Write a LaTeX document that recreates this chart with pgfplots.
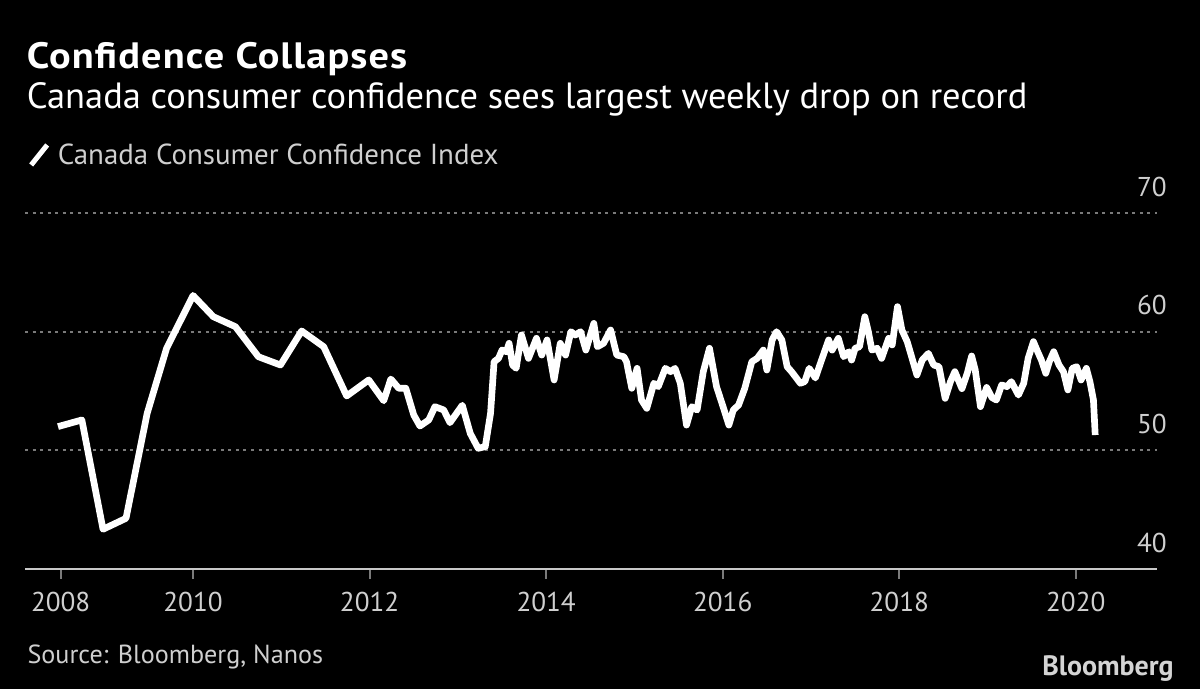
\documentclass[border=0pt]{standalone}
\usepackage{pgfplots}
\pgfplotsset{compat=1.18}
\usepackage{fontspec}
\setmainfont{PT Sans}
\newfontfamily\titlefont[FakeStretch=1.1, LetterSpace=3]{PT Sans}
\definecolor{bg}{HTML}{000000}
\definecolor{soft}{HTML}{CFCFCF}
\definecolor{gridc}{HTML}{7A7A7A}
\definecolor{axisc}{HTML}{C8C8C8}

% Canada Consumer Confidence Index (decimal year, index)
\pgfplotstableread{
year value
2008.47 52.00
2008.74 52.56
2008.98 43.35
2009.24 44.27
2009.48 53.12
2009.70 58.60
2010.00 63.05
2010.23 61.26
2010.48 60.42
2010.74 57.89
2010.99 57.19
2011.23 60.06
2011.48 58.73
2011.74 54.58
2011.99 55.93
2012.16 54.18
2012.24 56.01
2012.33 55.23
2012.41 55.23
2012.50 52.98
2012.57 52.05
2012.67 52.56
2012.74 53.68
2012.84 53.40
2012.91 52.33
2013.05 53.80
2013.14 51.43
2013.23 50.17
2013.31 50.31
2013.37 53.12
2013.41 57.47
2013.46 57.75
2013.50 58.45
2013.55 58.31
2013.58 59.02
2013.62 57.19
2013.66 56.91
2013.72 59.72
2013.80 57.75
2013.89 59.44
2013.95 58.03
2014.01 59.30
2014.09 55.93
2014.16 59.02
2014.22 58.03
2014.28 60.00
2014.33 59.72
2014.39 60.00
2014.45 58.45
2014.54 60.70
2014.58 58.73
2014.65 59.02
2014.73 60.14
2014.80 58.03
2014.88 57.89
2014.91 57.47
2014.97 55.23
2015.03 56.91
2015.08 54.24
2015.14 53.54
2015.22 55.65
2015.27 55.37
2015.35 56.91
2015.41 56.63
2015.46 56.91
2015.52 55.65
2015.59 52.13
2015.65 53.68
2015.71 53.40
2015.78 56.63
2015.85 58.60
2015.93 55.37
2016.01 53.54
2016.07 52.13
2016.12 53.40
2016.18 53.82
2016.25 55.23
2016.33 57.47
2016.39 57.75
2016.46 58.45
2016.50 56.77
2016.56 59.30
2016.61 60.00
2016.67 59.30
2016.73 57.05
2016.78 56.63
2016.88 55.65
2016.93 55.79
2016.98 56.91
2017.05 56.10
2017.11 57.40
2017.20 59.30
2017.24 58.45
2017.31 59.44
2017.37 57.89
2017.43 58.31
2017.46 57.61
2017.50 58.60
2017.55 58.73
2017.61 61.26
2017.65 60.00
2017.69 58.45
2017.75 58.60
2017.80 57.75
2017.88 59.44
2017.92 58.88
2017.98 62.11
2018.03 60.14
2018.09 59.16
2018.14 57.89
2018.20 56.35
2018.26 57.61
2018.33 58.17
2018.39 57.19
2018.45 57.05
2018.52 54.38
2018.58 55.79
2018.63 56.63
2018.71 55.20
2018.77 56.49
2018.82 57.95
2018.86 56.80
2018.92 53.68
2018.99 55.30
2019.05 54.45
2019.10 54.24
2019.16 55.51
2019.22 55.37
2019.27 55.79
2019.35 54.66
2019.41 55.65
2019.46 57.75
2019.52 59.16
2019.56 58.45
2019.61 57.61
2019.66 56.49
2019.70 57.47
2019.75 58.31
2019.81 57.19
2019.86 56.63
2019.91 55.09
2019.96 56.91
2020.01 57.05
2020.06 55.93
2020.12 56.91
2020.16 55.79
2020.20 54.24
2020.22 51.29
}\cci

\begin{document}
\begin{tikzpicture}
\path[use as bounding box, fill=bg] (0,0) rectangle (900pt,-516.75pt);

% headings
\node[anchor=base west, inner sep=0pt, text=white,
      font=\titlefont\bfseries\fontsize{27.5}{30}\selectfont]
  at (20pt,-51.2pt) {Confidence Collapses};
\node[anchor=base west, inner sep=0pt, text=white,
      font=\fontsize{27.35}{30}\selectfont]
  at (20pt,-81.2pt) {Canada consumer confidence sees largest weekly drop on record};

\begin{axis}[
  at={(18.75pt,-426.75pt)}, anchor=south west,
  scale only axis, width=849pt, height=267pt,
  xmin=2008.096, xmax=2020.92, ymin=40, ymax=70,
  axis x line*=bottom, axis y line*=right,
  x axis line style={draw=axisc, line width=1.5pt},
  y axis line style={draw=none},
  xtick={2008.5,2010,2012,2014,2016,2018,2020},
  xticklabels={2008,2010,2012,2014,2016,2018,2020},
  ytick={40,50,60,70}, yticklabels={40,50,60,70},
  tick align=outside, major tick length=7.5pt,
  xtick style={draw=gridc, line width=1.5pt},
  ytick style={draw=none},
  xticklabel style={font=\fontsize{20.4}{22}\selectfont, text=soft, inner sep=0pt, anchor=north, yshift=-10pt},
  yticklabel style={font=\fontsize{20.4}{22}\selectfont, text=soft, inner sep=0pt, anchor=base east, yshift=12.75pt},
  ymajorgrids,
  y grid style={draw=gridc, line width=1.5pt, dash pattern=on 2.25pt off 3.4pt},
  legend style={at={(axis description cs:0.003,1.163)}, anchor=west,
    draw=none, fill=none, inner sep=0pt, text=soft,
    font=\fontsize{21.7}{23}\selectfont},
  legend image code/.code={%
    \draw[white, line width=3.75pt] (0pt,-7.5pt) -- (12pt,7.5pt);
    \path[draw=none] (0pt,0pt) -- (18pt,0pt);},
  clip=false,
]
\addplot[white, line width=5pt, line join=round] table[x=year, y=value] {\cci};
\addlegendentry{Canada Consumer Confidence Index}
\end{axis}

% footer
\node[anchor=base west, inner sep=0pt, text=soft,
      font=\fontsize{19.6}{21}\selectfont]
  at (20.5pt,-497.5pt) {Source: Bloomberg, Nanos};
\node[anchor=base east, inner sep=0pt, text=soft!90!white,
      font=\bfseries\fontsize{21}{23}\selectfont]
  at (880.5pt,-506.25pt) {Bloomberg};
\end{tikzpicture}
\end{document}
